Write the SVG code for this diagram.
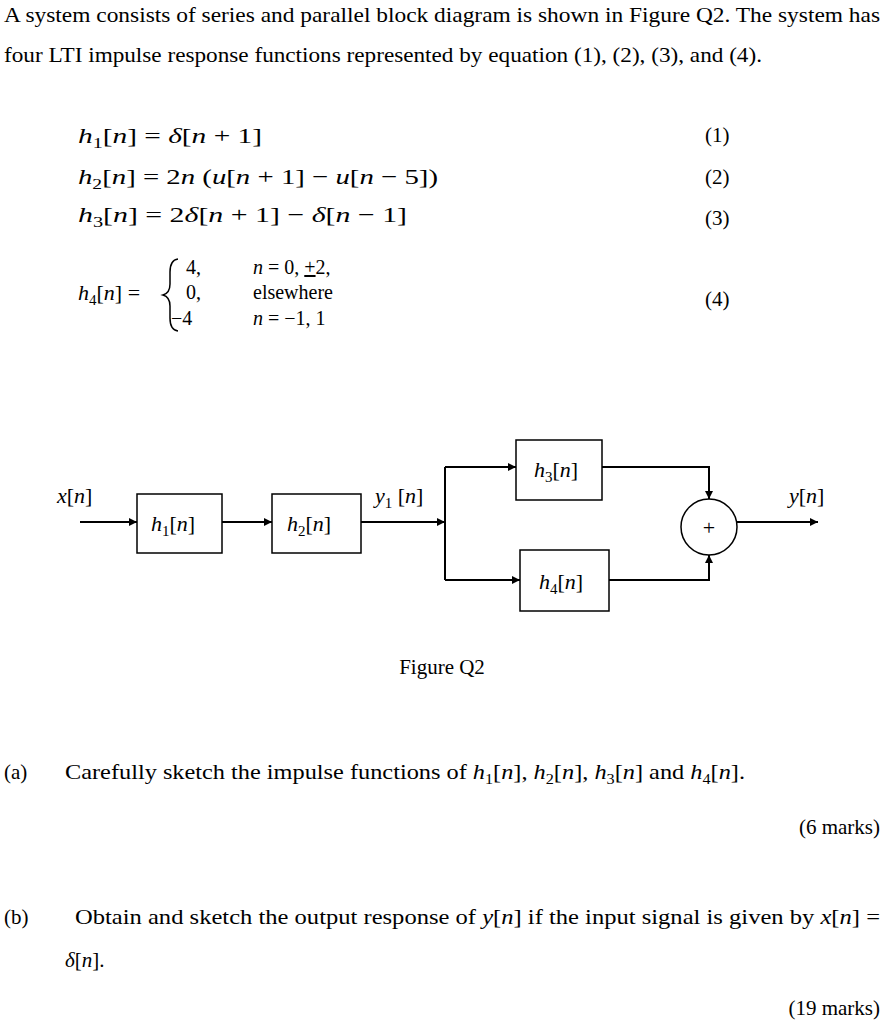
<svg xmlns="http://www.w3.org/2000/svg" width="884" height="1024" viewBox="0 0 884 1024">
<defs>
<marker id="ah" viewBox="0 0 10 10" refX="10" refY="5" markerWidth="10" markerHeight="8" orient="auto" markerUnits="userSpaceOnUse"><path d="M0,0 L10,5 L0,10 z" fill="#000"/></marker>
<style>
.t{font-family:"Liberation Serif",serif;font-size:21px;fill:#000}
.m{font-family:"Liberation Serif",serif;font-size:22px;font-style:italic;fill:#000}
.r{font-family:"Liberation Serif",serif;font-size:22px;fill:#000}
.k{font-family:"Liberation Serif",serif;font-size:20px;fill:#000}
.b{fill:#fff;stroke:#000;stroke-width:1.5}
.c{fill:none;stroke:#000;stroke-width:2}
</style>
</defs>
<rect width="884" height="1024" fill="#fff"/>
<text class="t" x="4" y="22" textLength="876" lengthAdjust="spacingAndGlyphs">A system consists of series and parallel block diagram is shown in Figure Q2. The system has</text>
<text class="t" x="4" y="62" textLength="758" lengthAdjust="spacingAndGlyphs">four LTI impulse response functions represented by equation (1), (2), (3), and (4).</text>

<g id="equations" xml:space="preserve">
<text class="m" x="78" y="143" textLength="184" lengthAdjust="spacingAndGlyphs">h<tspan font-size="15" font-style="normal" dy="5">1</tspan><tspan dy="-5" font-style="normal">[</tspan>n<tspan font-style="normal">]  =  </tspan>δ<tspan font-style="normal">[</tspan>n<tspan font-style="normal">  +  1]</tspan></text>
<text class="m" x="78" y="184" textLength="360" lengthAdjust="spacingAndGlyphs">h<tspan font-size="15" font-style="normal" dy="5">2</tspan><tspan dy="-5" font-style="normal">[</tspan>n<tspan font-style="normal">]  = 2</tspan>n<tspan font-style="normal"> (</tspan>u<tspan font-style="normal">[</tspan>n<tspan font-style="normal">  +  1]  −  </tspan>u<tspan font-style="normal">[</tspan>n<tspan font-style="normal">  −  5])</tspan></text>
<text class="m" x="78" y="222" textLength="329" lengthAdjust="spacingAndGlyphs">h<tspan font-size="15" font-style="normal" dy="5">3</tspan><tspan dy="-5" font-style="normal">[</tspan>n<tspan font-style="normal">]  =  2</tspan>δ<tspan font-style="normal">[</tspan>n<tspan font-style="normal">  +  1]  −  </tspan>δ<tspan font-style="normal">[</tspan>n<tspan font-style="normal">  −  1]</tspan></text>
<text class="m" x="78" y="300">h<tspan font-size="15" font-style="normal" dy="5">4</tspan><tspan dy="-5" font-style="normal">[</tspan>n<tspan font-style="normal">]  =</tspan></text>
<path d="M178,259 Q170,260 170,272 L170,284 Q170,293 163,295 Q170,297 170,306 L170,318 Q170,330 178,331" fill="none" stroke="#000" stroke-width="1.5"/>
<text class="k" x="186" y="274">4,</text>
<text class="k" x="186" y="299">0,</text>
<text class="k" x="171" y="325">−4</text>
<text class="k" x="253" y="274"><tspan font-style="italic">n</tspan> = 0, <tspan text-decoration="underline">+</tspan>2,</text>
<text class="k" x="253" y="299">elsewhere</text>
<text class="k" x="253" y="325"><tspan font-style="italic">n</tspan> = −1, 1</text>
<text class="t" x="705" y="142">(1)</text>
<text class="t" x="705" y="184">(2)</text>
<text class="t" x="705" y="225">(3)</text>
<text class="t" x="705" y="306">(4)</text>
</g>

<g id="connectors">
<line class="c" x1="80" y1="522" x2="137" y2="522" marker-end="url(#ah)"/>
<line class="c" x1="222" y1="522" x2="272" y2="522" marker-end="url(#ah)"/>
<line class="c" x1="361" y1="522" x2="445" y2="522" marker-end="url(#ah)"/>
<line class="c" x1="445" y1="467" x2="445" y2="580"/>
<line class="c" x1="445" y1="467" x2="516" y2="467" marker-end="url(#ah)"/>
<line class="c" x1="445" y1="580" x2="520" y2="580" marker-end="url(#ah)"/>
<path class="c" d="M602,467 H709 V499" marker-end="url(#ah)"/>
<path class="c" d="M609,580 H709 V555" marker-end="url(#ah)"/>
<line class="c" x1="737" y1="522" x2="818" y2="522" marker-end="url(#ah)"/>
</g>

<g id="h1"><rect class="b" x="137" y="494" width="85" height="59"/><text class="m" x="151" y="531">h<tspan font-size="15" font-style="normal" dy="5">1</tspan><tspan dy="-5" font-style="normal">[</tspan>n<tspan font-style="normal">]</tspan></text></g>
<g id="h2"><rect class="b" x="272" y="494" width="89" height="59"/><text class="m" x="287" y="531">h<tspan font-size="15" font-style="normal" dy="5">2</tspan><tspan dy="-5" font-style="normal">[</tspan>n<tspan font-style="normal">]</tspan></text></g>
<g id="h3"><rect class="b" x="516" y="440" width="86" height="60"/><text class="m" x="534" y="477">h<tspan font-size="15" font-style="normal" dy="5">3</tspan><tspan dy="-5" font-style="normal">[</tspan>n<tspan font-style="normal">]</tspan></text></g>
<g id="h4"><rect class="b" x="520" y="550" width="89" height="61"/><text class="m" x="539" y="589">h<tspan font-size="15" font-style="normal" dy="5">4</tspan><tspan dy="-5" font-style="normal">[</tspan>n<tspan font-style="normal">]</tspan></text></g>
<g id="sum"><circle class="b" cx="709" cy="527" r="28"/><text class="r" x="709" y="535" text-anchor="middle">+</text></g>
<g id="labels">
<text class="m" x="57" y="503">x<tspan font-style="normal">[</tspan>n<tspan font-style="normal">]</tspan></text>
<text class="m" x="375" y="503">y<tspan font-size="15" font-style="normal" dy="5">1</tspan><tspan dy="-5" font-style="normal"> [</tspan>n<tspan font-style="normal">]</tspan></text>
<text class="m" x="789" y="503">y<tspan font-style="normal">[</tspan>n<tspan font-style="normal">]</tspan></text>
<text class="t" x="442" y="674" text-anchor="middle">Figure Q2</text>
</g>

<text class="t" x="4" y="779">(a)</text>
<text class="t" x="65" y="779" textLength="680" lengthAdjust="spacingAndGlyphs">Carefully sketch the impulse functions of <tspan font-style="italic">h</tspan><tspan font-size="14" dy="5">1</tspan><tspan dy="-5">[</tspan><tspan font-style="italic">n</tspan>], <tspan font-style="italic">h</tspan><tspan font-size="14" dy="5">2</tspan><tspan dy="-5">[</tspan><tspan font-style="italic">n</tspan>], <tspan font-style="italic">h</tspan><tspan font-size="14" dy="5">3</tspan><tspan dy="-5">[</tspan><tspan font-style="italic">n</tspan>] and <tspan font-style="italic">h</tspan><tspan font-size="14" dy="5">4</tspan><tspan dy="-5">[</tspan><tspan font-style="italic">n</tspan>].</text>
<text class="t" x="880" y="834" text-anchor="end">(6 marks)</text>
<text class="t" x="4" y="924">(b)</text>
<text class="t" x="75" y="924" textLength="805" lengthAdjust="spacingAndGlyphs">Obtain and sketch the output response of <tspan font-style="italic">y</tspan>[<tspan font-style="italic">n</tspan>] if the input signal is given by <tspan font-style="italic">x</tspan>[<tspan font-style="italic">n</tspan>] =</text>
<text class="t" x="65" y="967"><tspan font-style="italic">δ</tspan>[<tspan font-style="italic">n</tspan>].</text>
<text class="t" x="880" y="1015" text-anchor="end">(19 marks)</text>
</svg>
